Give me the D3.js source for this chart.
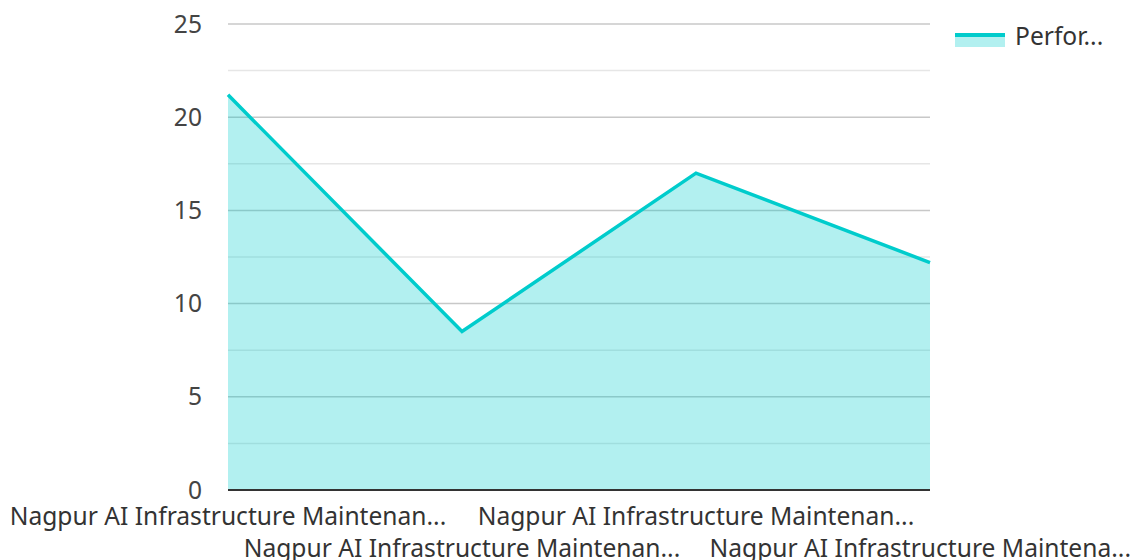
<!DOCTYPE html>
<html lang="en">
<head>
    <meta charset="UTF-8">
    <title>Performance</title>
    <script src="https://cdn.jsdelivr.net/npm/d3@7"></script>
    <style>
        body { margin: 0; background: #fff; }
        text { font-family: "Noto Sans", sans-serif; }
    </style>
</head>
<body>
<svg></svg>
<script>
    var categories = [
        "Nagpur AI Infrastructure Maintenan...",
        "Nagpur AI Infrastructure Maintenan...",
        "Nagpur AI Infrastructure Maintenan...",
        "Nagpur AI Infrastructure Maintena..."
    ];
    var values = [21.2, 8.5, 17, 12.2];
    var majorTicks = [0, 5, 10, 15, 20, 25];
    var minorTicks = [2.5, 7.5, 12.5, 17.5, 22.5];
    var seriesName = "Perfor...";

    var width = 1144;
    var height = 560;
    var svg = d3.select('svg')
                    .attr('width', width)
                    .attr('height', height);

    var plotLeft = 228, plotRight = 930, plotTop = 24, plotBottom = 490;
    var color = "#00cccc";
    var fontSize = "24.6px";

    var x = d3.scalePoint()
            .domain(d3.range(categories.length))
            .range([plotLeft, plotRight]);
    var y = d3.scaleLinear()
            .domain([0, 25])
            .range([plotBottom, plotTop]);

    // grid lines
    svg.selectAll(".minor")
            .data(minorTicks)
            .enter()
            .append("line")
            .attr("x1", plotLeft).attr("x2", plotRight)
            .attr("y1", function(d){ return y(d); })
            .attr("y2", function(d){ return y(d); })
            .attr("stroke", "#e6e6e6")
            .attr("stroke-width", 1.5);
    svg.selectAll(".major")
            .data(majorTicks.filter(function(d){ return d > 0; }))
            .enter()
            .append("line")
            .attr("x1", plotLeft).attr("x2", plotRight)
            .attr("y1", function(d){ return y(d); })
            .attr("y2", function(d){ return y(d); })
            .attr("stroke", "#c8c8c8")
            .attr("stroke-width", 1.5);

    // area and line
    var area = d3.area()
            .x(function(d, i){ return x(i); })
            .y0(y(0))
            .y1(function(d){ return y(d); });
    var line = d3.line()
            .x(function(d, i){ return x(i); })
            .y(function(d){ return y(d); });

    svg.append("path")
            .datum(values)
            .attr("d", area)
            .attr("fill", color)
            .attr("fill-opacity", 0.3);
    svg.append("path")
            .datum(values)
            .attr("d", line)
            .attr("fill", "none")
            .attr("stroke", color)
            .attr("stroke-width", 3.5);

    // baseline
    svg.append("line")
            .attr("x1", plotLeft).attr("x2", plotRight)
            .attr("y1", y(0)).attr("y2", y(0))
            .attr("stroke", "#333")
            .attr("stroke-width", 2);

    // y tick labels
    svg.selectAll(".ytick")
            .data(majorTicks)
            .enter()
            .append("text")
            .attr("x", 202)
            .attr("y", function(d){ return y(d); })
            .attr("dy", "0.35em")
            .attr("text-anchor", "end")
            .style("font-size", fontSize)
            .style("fill", "#444")
            .text(function(d){ return d; });

    // x labels, staggered on two rows
    svg.selectAll(".xtick")
            .data(categories)
            .enter()
            .append("text")
            .attr("x", function(d, i){ return x(i); })
            .attr("y", function(d, i){ return i % 2 === 0 ? 525 : 557; })
            .attr("text-anchor", "middle")
            .style("font-size", fontSize)
            .style("fill", "#333")
            .text(function(d){ return d; })
            .each(function(){
                var b = this.getBBox();
                if (b.x + b.width > 1131) {
                    d3.select(this).attr("x", +d3.select(this).attr("x") - (b.x + b.width - 1131));
                }
            });

    // legend
    var legend = svg.append("g");
    legend.append("rect")
            .attr("x", 955).attr("y", 35)
            .attr("width", 50).attr("height", 12)
            .attr("fill", color)
            .attr("fill-opacity", 0.3);
    legend.append("line")
            .attr("x1", 955).attr("x2", 1005)
            .attr("y1", 35).attr("y2", 35)
            .attr("stroke", color)
            .attr("stroke-width", 4);
    legend.append("text")
            .attr("x", 1015).attr("y", 36)
            .attr("dy", "0.35em")
            .style("font-size", fontSize)
            .style("fill", "#333")
            .text(seriesName);
</script>
</body>
</html>
